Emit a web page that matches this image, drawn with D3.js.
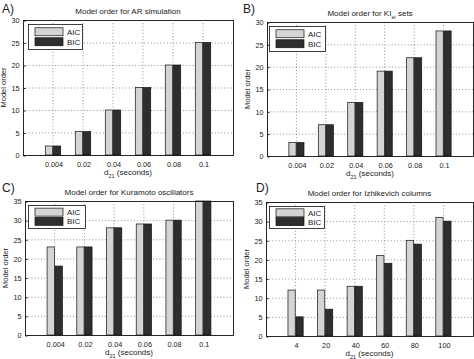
<!DOCTYPE html>
<html><head><meta charset="utf-8">
<script src="https://cdn.jsdelivr.net/npm/d3@7"></script>
<style>
body{margin:0;background:#fff;}
svg{display:block;font-family:"Liberation Sans",Arial,Helvetica,sans-serif;}
</style></head>
<body>
<svg id="c" width="474" height="359"></svg>
<script>
// ---- data ----
const delaysSec = ["0.004","0.02","0.04","0.06","0.08","0.1"];
const delaysIzh = ["4","20","40","60","80","100"];
const arAIC = [2,5.2,10,15,20,25];
const arBIC = [2,5.2,10,15,20,25];
const kiAIC = [3,7,12,19,22,28];
const kiBIC = [3,7,12,19,22,28];
const kuraAIC = [23,23,28,29,30,35];
const kuraBIC = [18,23,28,29,30,35];
const izhAIC = [12,12,13,21,25,31];
const izhBIC = [5,7,13,19,24,30];
const ticks30 = [0,5,10,15,20,25,30];
const ticks35 = [0,5,10,15,20,25,30,35];
const seriesNames = ["AIC","BIC"];
const seriesColors = ["#d4d4d4","#2e2e2e"];

const svg = d3.select("#c");
const txt = "#222";

const panels = [
 {letter:"A)", lx:2, ly:13, title:["Model order for AR simulation"], box:[23,233,20,155], ymax:30, yt:ticks30, cats:delaysSec, a:arAIC, b:arBIC, leg:[28,24,54,25]},
 {letter:"B)", lx:243, ly:13, title:["Model order for KI","ei"," sets"], box:[267,473,22,156], ymax:30, yt:ticks30, cats:delaysSec, a:kiAIC, b:kiBIC, leg:[269,26,56,25]},
 {letter:"C)", lx:2, ly:192, title:["Model order for Kuramoto oscillators"], box:[25,233,201,335], ymax:35, yt:ticks35, cats:delaysSec, a:kuraAIC, b:kuraBIC, leg:[28,205,57,23]},
 {letter:"D)", lx:256, ly:192, title:["Model order for Izhikevich columns"], box:[266,473,202,336], ymax:35, yt:ticks35, cats:delaysIzh, a:izhAIC, b:izhBIC, leg:[269,206,55,22]}
];

panels.forEach(p=>{
  const [x0,x1,y0,y1] = p.box;
  const g = svg.append("g");
  const x = d3.scaleLinear().domain([0,7]).range([x0,x1]);
  const y = d3.scaleLinear().domain([0,p.ymax]).range([y1,y0]);
  const idx = d3.range(1,7);

  // grid
  g.selectAll(".hg").data(p.yt.filter(t=>t>0 && t<p.ymax)).enter().append("line")
    .attr("x1",x0).attr("x2",x1).attr("y1",d=>y(d)+0.5).attr("y2",d=>y(d)+0.5)
    .attr("stroke","#777").attr("stroke-width",0.8).attr("stroke-dasharray","1,2.2");
  g.selectAll(".vg").data(idx).enter().append("line")
    .attr("x1",d=>x(d)).attr("x2",d=>x(d)).attr("y1",y0).attr("y2",y1)
    .attr("stroke","#777").attr("stroke-width",0.8).attr("stroke-dasharray","1,2.2");

  // bars
  const bw = 0.245, gap = 0.012;
  [p.a,p.b].forEach((vals,si)=>{
    g.selectAll(".b"+si).data(vals).enter().append("rect")
      .attr("x",(d,i)=> si===0 ? x(i+1-gap-bw) : x(i+1+gap))
      .attr("width", x(bw)-x(0))
      .attr("y",d=>y(Math.min(d,p.ymax)))
      .attr("height",d=>y(0)-y(Math.min(d,p.ymax)))
      .attr("fill",seriesColors[si]).attr("stroke","#111").attr("stroke-width",0.7);
  });

  // box
  g.append("rect").attr("x",x0+0.5).attr("y",y0+0.5).attr("width",x1-x0).attr("height",y1-y0)
    .attr("fill","none").attr("stroke","#111").attr("stroke-width",0.9);

  // ticks
  const yAxis = d3.axisLeft(y).tickValues(p.yt).tickSize(-2).tickPadding(4).tickFormat(d3.format("d"));
  const ya = g.append("g").attr("transform",`translate(${x0+0.5},0.5)`).call(yAxis);
  const xAxis = d3.axisBottom(x).tickValues(idx).tickSize(-2).tickPadding(6).tickFormat((d)=>p.cats[d-1]);
  const xa = g.append("g").attr("transform",`translate(0.5,${y1+0.5})`).call(xAxis);
  [ya,xa].forEach(a=>{
    a.select(".domain").remove();
    a.selectAll("line").attr("stroke","#111");
    a.selectAll("text").attr("font-size",7.3).attr("fill",txt).attr("font-family","Liberation Sans, Arial, sans-serif");
  });

  // title
  const t = g.append("text").attr("x",(x0+x1)/2).attr("y",y0-6).attr("text-anchor","middle")
    .attr("font-size",8).attr("fill",txt);
  t.append("tspan").text(p.title[0]);
  if(p.title.length>1){
    t.append("tspan").attr("dy",3).attr("font-size",5.5).text(p.title[1]);
    t.append("tspan").attr("dy",-3).text(p.title[2]);
  }

  // letter
  g.append("text").attr("x",p.lx).attr("y",p.ly).attr("font-size",12).attr("fill",txt).text(p.letter);

  // y label
  g.append("text").attr("transform",`translate(${x0-17},${(y0+y1)/2}) rotate(-90)`)
    .attr("text-anchor","middle").attr("font-size",7.5).attr("fill",txt).text("Model order");

  // x label
  const xl = g.append("text").attr("x",(x0+x1)/2).attr("y",y1+20).attr("text-anchor","middle")
    .attr("font-size",8).attr("fill",txt);
  xl.append("tspan").text("d");
  xl.append("tspan").attr("dy",3).attr("font-size",5.5).text("21");
  xl.append("tspan").attr("dy",-3).text(" (seconds)");

  // legend
  const [lx,ly,lw,lh] = p.leg;
  const lg = g.append("g");
  lg.append("rect").attr("x",lx+0.5).attr("y",ly+0.5).attr("width",lw).attr("height",lh)
    .attr("fill","#fff").attr("stroke","#111").attr("stroke-width",0.8);
  seriesNames.forEach((s,i)=>{
    const ry = ly + lh*(i===0?0.31:0.71);
    lg.append("rect").attr("x",lx+7).attr("y",ry-4).attr("width",28).attr("height",8)
      .attr("fill",seriesColors[i]).attr("stroke","#111").attr("stroke-width",0.7);
    lg.append("text").attr("x",lx+39).attr("y",ry+3).attr("font-size",8).attr("fill",txt).text(s);
  });
});
</script>
</body></html>
